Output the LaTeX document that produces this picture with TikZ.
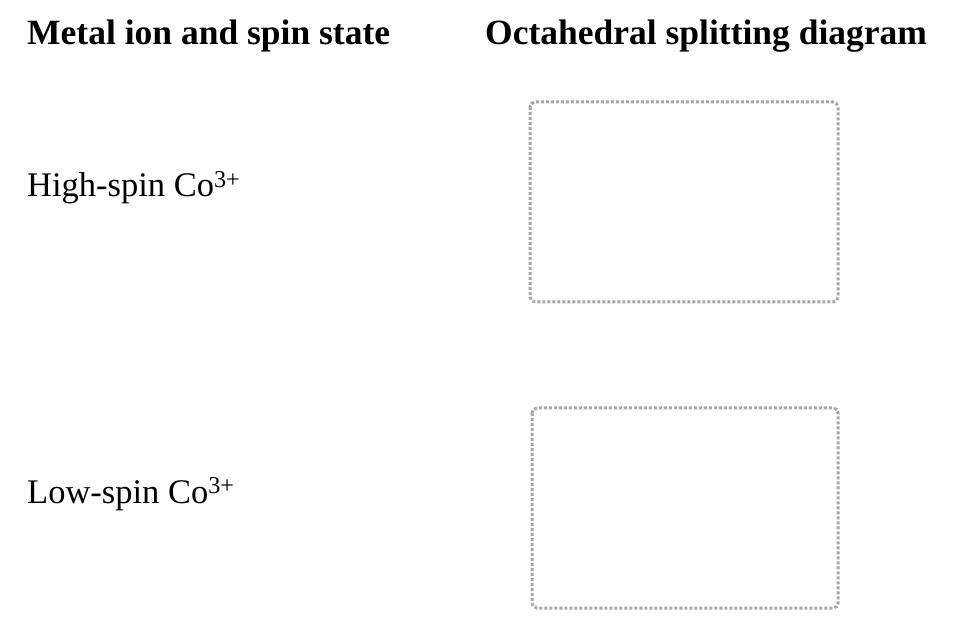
\documentclass[tikz,border=0pt]{standalone}
\usepackage{fontspec}
\setmainfont{Liberation Serif}
\tikzset{
 hdr/.style={anchor=base west,inner sep=0,font=\bfseries\fontsize{35.5}{40}\selectfont},
 lbl/.style={anchor=base west,inner sep=0,font=\fontsize{34.5}{40}\selectfont},
 slot/.style={draw=gray!70,dotted,line width=3pt,rounded corners=5pt}
}
\begin{document}
\begin{tikzpicture}[x=1pt,y=-1pt]
\useasboundingbox (0,0) rectangle (954,636);
\node[hdr] (h1) at (27,45) {Metal ion and spin state};
\node[hdr] (h2) at (485,45) {Octahedral splitting diagram};
\node[lbl] (hs) at (27,197) {High-spin Co\textsuperscript{3+}};
\node[lbl] (ls) at (27,503) {Low-spin Co\textsuperscript{3+}};
\draw[slot] (530,102) rectangle (838,302) node (b1) {};
\draw[slot] (532,408) rectangle (838,608) node (b2) {};
\end{tikzpicture}
\end{document}
